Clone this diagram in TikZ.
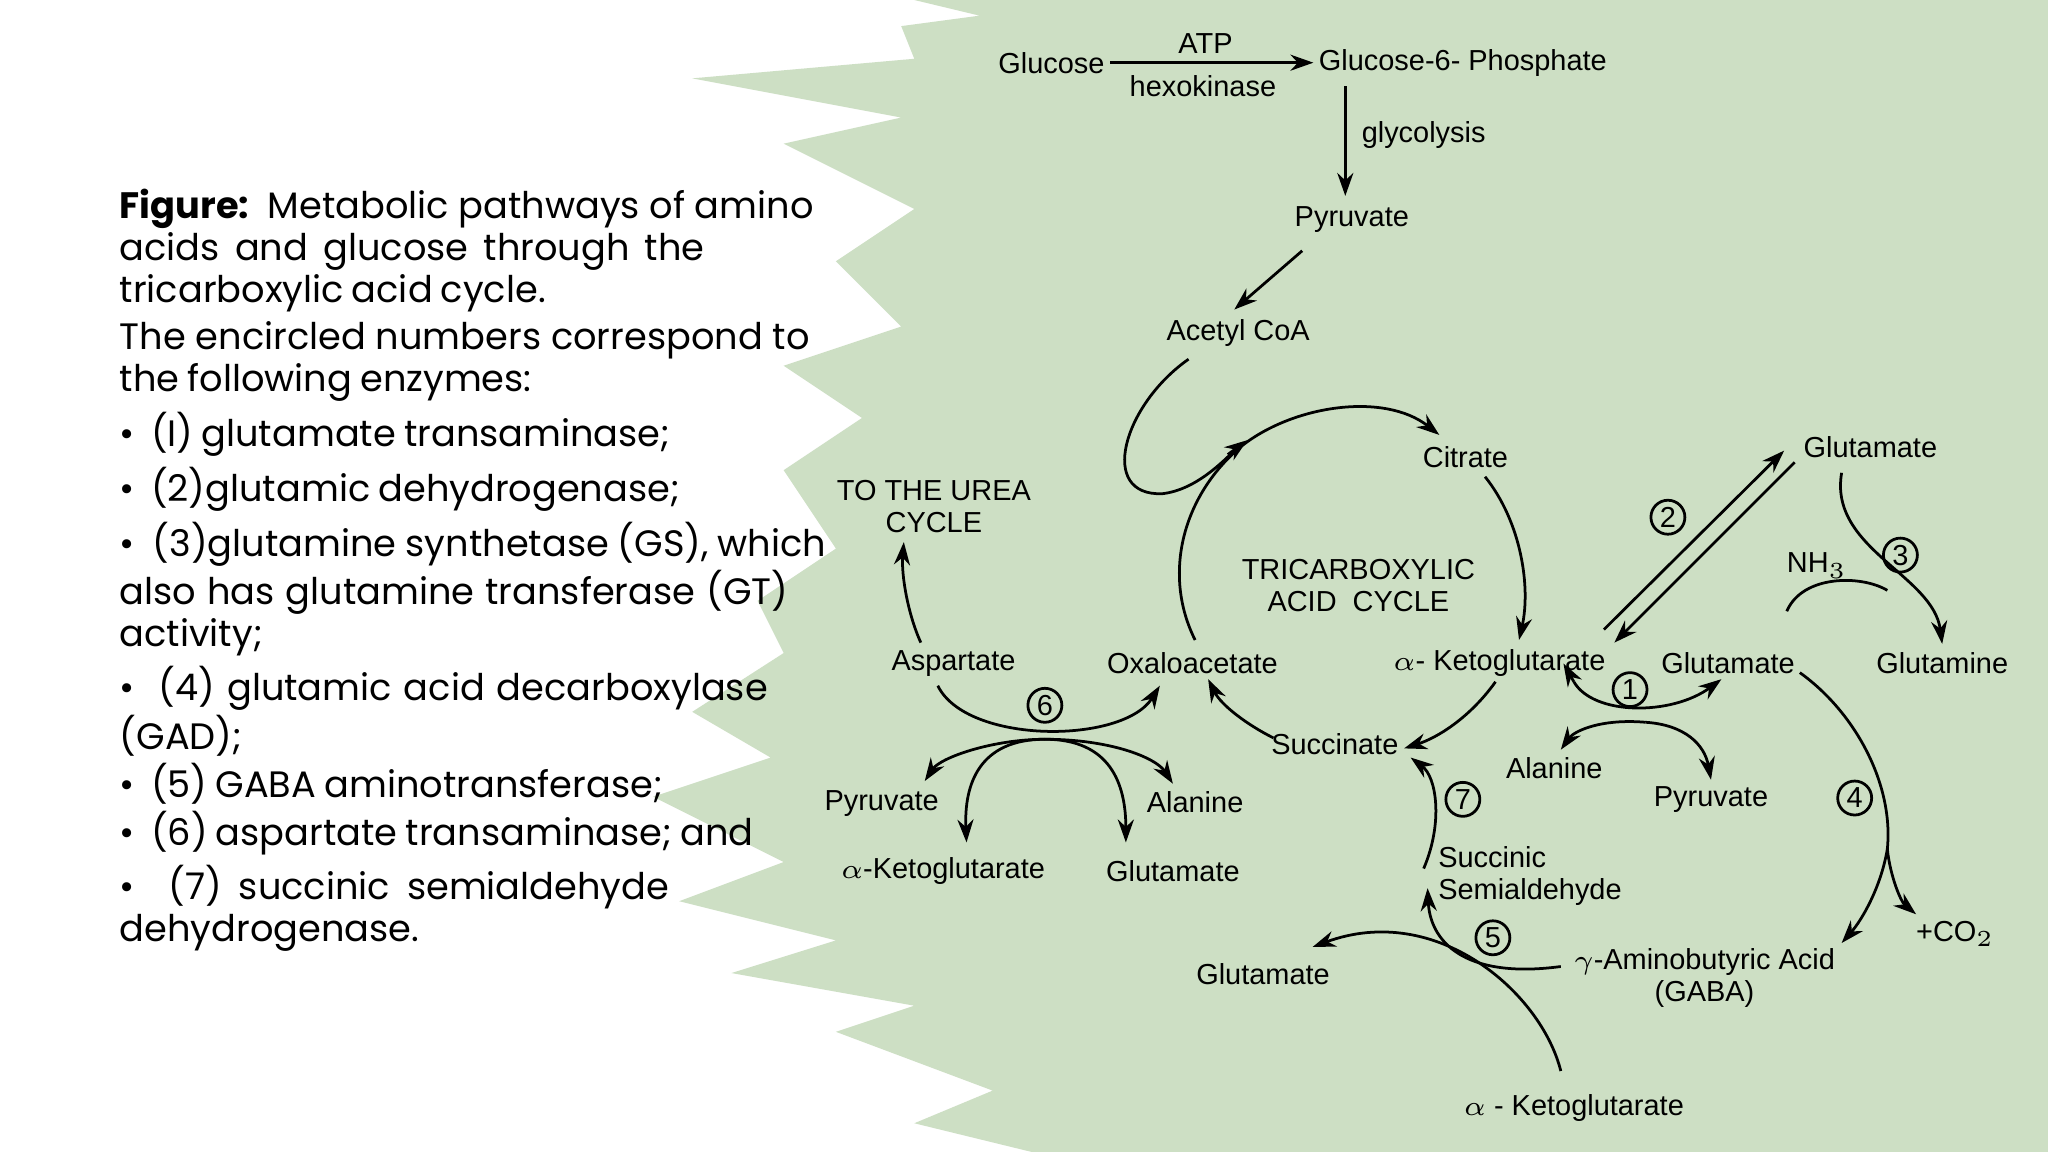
\documentclass[tikz,border=0pt]{standalone}
\usepackage{fontspec}
\setmainfont{Liberation Sans}
\newfontfamily\leftfont{Poppins}
\usetikzlibrary{arrows.meta}
\definecolor{bg}{HTML}{CDDFC4}
\tikzset{
 lab/.style={font=\fontsize{6.3}{7}\selectfont, inner sep=1pt},
 ar/.style={-{Stealth[length=5pt,width=3.5pt]}, line width=0.6pt},
 ln/.style={line width=0.6pt},
 enz/.style={circle, draw, line width=0.6pt, inner sep=0.6pt, minimum size=0.26cm, font=\fontsize{6.3}{7}\selectfont}
}
\begin{document}
\begin{tikzpicture}[x=0.01cm,y=-0.01cm]
\useasboundingbox (0,0) rectangle (1568,882);
\fill[white] (0,0) rectangle (1568,882);
\fill[bg] (700,0) -- (1568,0) -- (1568,882) -- (790,882) -- (700,860) -- (760,835) -- (640,790) -- (700,770) -- (560,745) -- (640,720) -- (520,690) -- (600,660) -- (500,610) -- (590,580) -- (530,545) -- (600,500) -- (580,460) -- (640,420) -- (600,360) -- (660,320) -- (600,280) -- (690,250) -- (640,200) -- (700,160) -- (600,110) -- (690,90) -- (530,60) -- (700,45) -- (690,20) -- (750,12) -- cycle;

\node[anchor=north west, text width=5.55cm, align=left, font=\leftfont\fontsize{8}{9.1}\selectfont, inner sep=0pt] (txt) at (91,144) {%
\hyphenpenalty=10000 \spaceskip=0.22em plus 0.1em\relax
\textbf{Figure:} Metabolic pathways of amino acids and glucose through the tricarboxylic acid cycle.\par\vspace{1.3pt}
The encircled numbers correspond to the following enzymes:\par\vspace{1.3pt}
• \ (I) glutamate transaminase;\par\vspace{1.3pt}
• \ (2)glutamic dehydrogenase;\par\vspace{1.3pt}
• \ (3)glutamine synthetase (GS), which also has glutamine transferase (GT) activity;\par\vspace{1.3pt}
• \ (4) glutamic acid decarboxylase (GAD);\par\vspace{1.3pt}
• \ (5) GABA aminotransferase;\par\vspace{1.3pt}
• \ (6) aspartate transaminase; and\par\vspace{1.3pt}
• \ (7) succinic semialdehyde \mbox{dehydrogenase.}};

% glycolysis
\node[lab] (glc) at (805,48) {Glucose};
\node[lab] (atp) at (923,33) {ATP};
\node[lab] (hex) at (921,66) {hexokinase};
\node[lab] (g6p) at (1120,48) {Glucose-6- Phosphate};
\draw[ar] (glc) -- (g6p);
\node[lab] (glyc) at (1090,103) {glycolysis};
\node[lab] (pyr) at (1035,168) {Pyruvate};
\draw[ar] (1030,66) -- (1030,150);
\node[lab] (acoa) at (948,255) {Acetyl CoA};
\draw[ar] (997,192) -- (945,237);

% cycle
\node[lab] (cit) at (1122,350) {Citrate};
\node[lab] (akg) at (1148,508) {$\alpha$- Ketoglutarate};
\node[lab] (suc) at (1022,570) {Succinate};
\node[lab] (oaa) at (913,508) {Oxaloacetate};
\node[lab, align=center] (tca) at (1040,448) {TRICARBOXYLIC\\ACID\ \ CYCLE};
\draw[ln] (910,275) .. controls (860,310) and (840,380) .. (890,378) .. controls (915,375) and (935,355) .. (948,342);
\draw[ar] (940,348) -- (955,337);
\draw[ar] (950,342) .. controls (990,310) and (1060,300) .. (1102,333);
\draw[ar] (1137,365) .. controls (1165,400) and (1172,450) .. (1163,490);
\draw[ar] (1145,522) .. controls (1125,550) and (1100,565) .. (1075,573);
\draw[ar] (975,565) .. controls (955,555) and (935,540) .. (925,520);
\draw[ln] (915,490) .. controls (890,440) and (905,380) .. (950,342);

% enzyme 2
\node[lab] (glu1) at (1432,342) {Glutamate};
\node[enz] (e2) at (1277,396) {2};
\draw[ar] (1228,482) -- (1366,345);
\draw[ar] (1374,354) -- (1236,492);
% enzyme 3
\node[lab] (nh3) at (1391,433) {NH$_3$};
\node[enz] (e3) at (1455,425) {3};
\node[lab] (gln) at (1487,508) {Glutamine};
\draw[ar] (1410,362) .. controls (1400,420) and (1480,440) .. (1487,493);
\draw[ln] (1368,468) .. controls (1380,440) and (1425,440) .. (1445,452);
% enzyme 1
\node[lab] (glu2) at (1323,508) {Glutamate};
\node[enz] (e1) at (1248,528) {1};
\node[lab] (ala1) at (1190,588) {Alanine};
\node[lab] (pyr1) at (1310,612) {Pyruvate};
\draw[ar] (1205,522) .. controls (1220,548) and (1280,548) .. (1318,520);
\draw[ar] (1205,522) -- (1197,508);
\draw[ar] (1260,553) .. controls (1225,550) and (1205,560) .. (1195,574);
\draw[ar] (1260,553) .. controls (1290,555) and (1305,570) .. (1310,597);
% enzyme 4
\node[enz] (e4) at (1420,611) {4};
\node[lab] (co2) at (1497,715) {+CO$_2$};
\node[lab, align=center] (gaba) at (1305,749) {$\gamma$-Aminobutyric Acid\\(GABA)};
\draw[ln] (1378,515) .. controls (1420,545) and (1450,600) .. (1445,650);
\draw[ar] (1445,650) .. controls (1440,680) and (1425,705) .. (1410,722);
\draw[ar] (1445,650) .. controls (1447,670) and (1455,690) .. (1467,700);
% enzyme 5
\node[enz] (e5) at (1143,718) {5};
\node[lab, align=left, anchor=west] (ssa) at (1097,671) {Succinic\\Semialdehyde};
\node[lab] (glu3) at (967,746) {Glutamate};
\node[lab] (akg2) at (1205,848) {$\alpha$ - Ketoglutarate};
\draw[ar] (1195,740) .. controls (1120,750) and (1095,720) .. (1093,680);
\draw[ar] (1195,820) .. controls (1180,760) and (1100,690) .. (1005,725);
% enzyme 7
\node[enz] (e7) at (1120,612) {7};
\draw[ar] (1090,665) .. controls (1105,630) and (1100,595) .. (1080,580);
% enzyme 6
\node[lab] (asp) at (730,508) {Aspartate};
\node[lab, align=center] (urea) at (715,388) {TO THE UREA\\CYCLE};
\node[enz] (e6) at (800,540) {6};
\node[lab] (pyr2) at (675,615) {Pyruvate};
\node[lab] (ala2) at (915,614) {Alanine};
\node[lab] (akg3) at (722,667) {$\alpha$-Ketoglutarate};
\node[lab] (glu4) at (898,667) {Glutamate};
\draw[ar] (705,492) .. controls (695,470) and (690,440) .. (692,415);
\draw[ar] (718,525) .. controls (740,570) and (860,570) .. (888,525);
\draw[ar] (800,566) .. controls (760,566) and (720,580) .. (708,598);
\draw[ar] (800,566) .. controls (850,566) and (885,580) .. (898,600);
\draw[ar] (800,566) .. controls (750,566) and (738,600) .. (740,645);
\draw[ar] (800,566) .. controls (850,566) and (862,600) .. (862,645);
\end{tikzpicture}
\end{document}
